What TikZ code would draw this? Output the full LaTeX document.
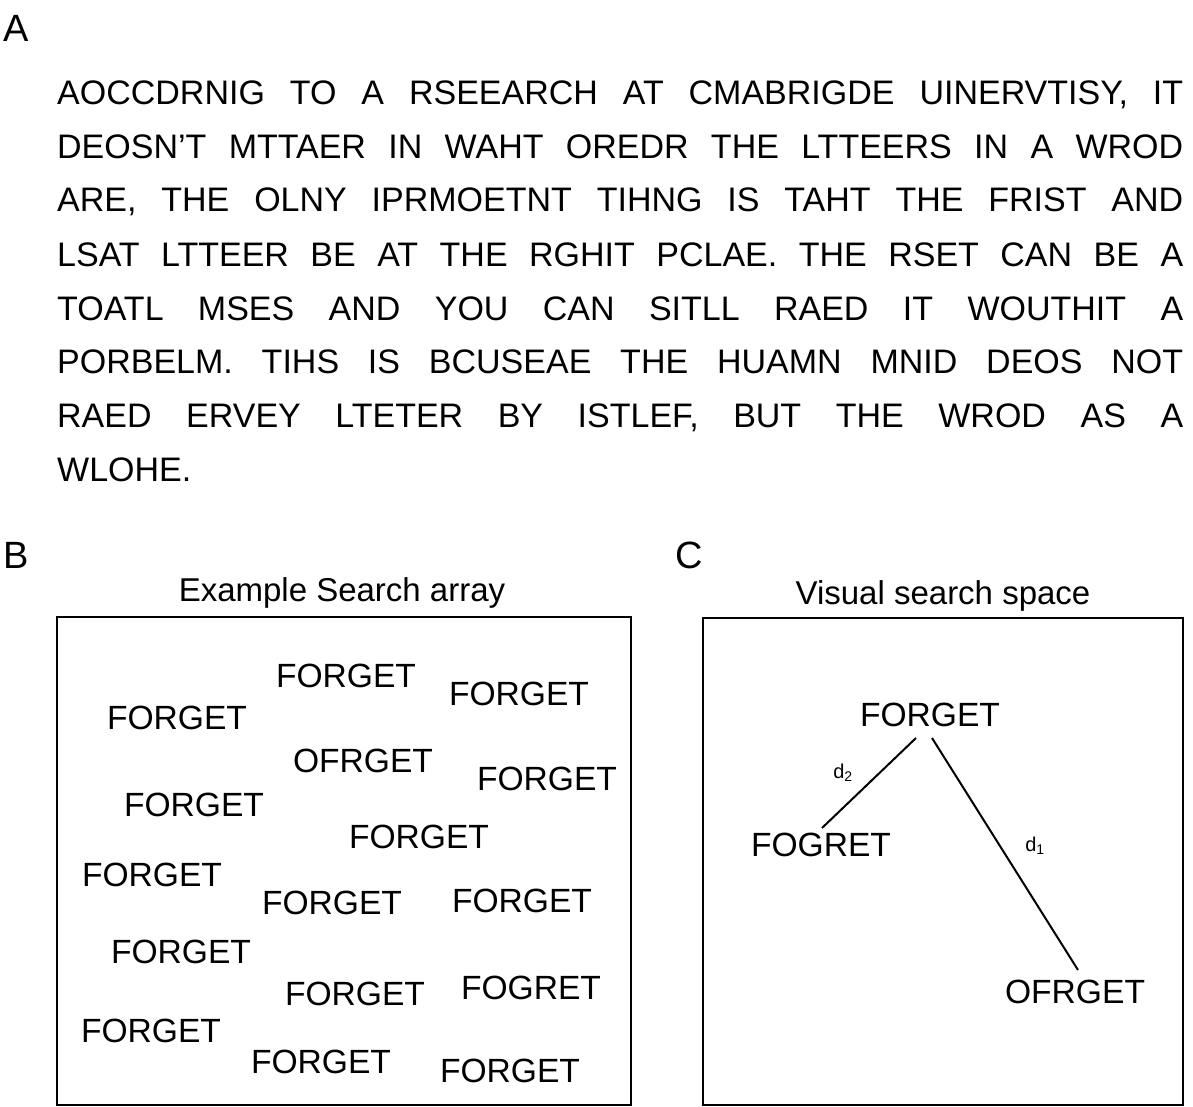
\documentclass[tikz,border=0pt]{standalone}
\usepackage{fontspec}
\setmainfont[Ligatures=NoCommon]{Liberation Sans}
\begin{document}
\begin{tikzpicture}[x=1pt,y=-1pt,
  body/.style={anchor=base west,inner sep=0,font=\fontsize{34}{40}\selectfont},
  word/.style={inner sep=0,font=\fontsize{33.6}{38}\selectfont},
  panel/.style={inner sep=0,font=\fontsize{38}{44}\selectfont},
  ttl/.style={inner sep=0,font=\fontsize{33}{38}\selectfont},
  sub/.style={inner sep=0,font=\fontsize{20}{24}\selectfont},
  box/.style={draw,line width=2pt},
  conn/.style={line width=2pt}]
\useasboundingbox (0,0) rectangle (1193,1107);
\node[panel] (la) at (16,28) {A};
\node[panel] (lb) at (16,555) {B};
\node[panel] (lc) at (689,555) {C};
\newcommand{\jl}[2]{\node[body] at (57,#1) {\makebox[1126pt][s]{#2}};}
\jl{105}{AOCCDRNIG TO A RSEEARCH AT CMABRIGDE UINERVTISY, IT}
\jl{159}{DEOSN\symbol{"0027}T MTTAER IN WAHT OREDR THE LTTEERS IN A WROD}
\jl{212}{ARE, THE OLNY IPRMOETNT TIHNG IS TAHT THE FRIST AND}
\jl{266}{LSAT LTTEER BE AT THE RGHIT PCLAE. THE RSET CAN BE A}
\jl{320}{TOATL MSES AND YOU CAN SITLL RAED IT WOUTHIT A}
\jl{373}{PORBELM. TIHS IS BCUSEAE THE HUAMN MNID DEOS NOT}
\jl{427}{RAED ERVEY LTETER BY ISTLEF, BUT THE WROD AS A}
\node[body] at (57,481) {WLOHE.};
% B
\node[ttl] (tb) at (342,593) {Example Search array};
\draw[box] (57,617) rectangle (631,1105);
\foreach \x/\y/\t in {346/676/FORGET,519/694/FORGET,177/718/FORGET,363/761/OFRGET,547/779/FORGET,194/805/FORGET,419/837/FORGET,152/875/FORGET,332/903/FORGET,522/901/FORGET,181/952/FORGET,355/994/FORGET,531/988/FOGRET,151/1031/FORGET,321/1062/FORGET,510/1071/FORGET}
  \node[word] at (\x,\y) {\t};
% C
\node[ttl] (tc) at (943,596) {Visual search space};
\draw[box] (703,618) rectangle (1183,1105);
\node[word] (f) at (930,715) {FORGET};
\node[word] (g) at (821,845) {FOGRET};
\node[word] (o) at (1075,992) {OFRGET};
\coordinate (f1) at (916,738);
\coordinate (f2) at (932,738);
\coordinate (g1) at (822,828);
\coordinate (o1) at (1078,970);
\draw[conn] (f1) -- (g1);
\draw[conn] (f2) -- (o1);
\node[sub] (d2) at (843,773) {d\textsubscript{2}};
\node[sub] (d1) at (1035,846) {d\textsubscript{1}};
\end{tikzpicture}
\end{document}
